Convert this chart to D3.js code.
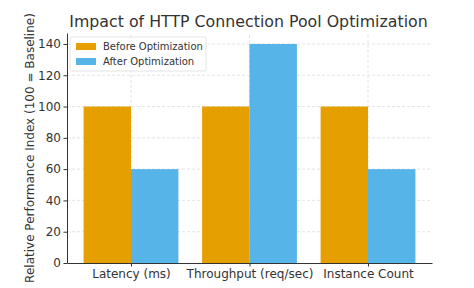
<!DOCTYPE html>
<html>
<head>
<meta charset="utf-8">
<script src="https://cdn.jsdelivr.net/npm/d3@7"></script>
<style>
  body { margin: 0; background: #fff; }
  svg text { font-family: "DejaVu Sans", sans-serif; fill: #333; }
</style>
</head>
<body>
<div id="chart"></div>
<script>
// chart data
var categories = ["Latency (ms)", "Throughput (req/sec)", "Instance Count"];
var seriesNames = ["Before Optimization", "After Optimization"];
var beforeValues = [100, 100, 100];
var afterValues = [60, 140, 60];
var yTicks = [0, 20, 40, 60, 80, 100, 120, 140];
var colors = ["#E69F00", "#56B4E9"];

var width = 474, height = 288;
var margin = {top: 33, right: 42, bottom: 25, left: 67};

var svg = d3.select("#chart").append("svg")
    .attr("width", width)
    .attr("height", height);

// x scale in category units, bars are 0.4 wide on each side of the tick
var barW = 0.4;
var x = d3.scaleLinear()
    .domain([-0.54, 2.54])
    .range([margin.left, width - margin.right]);
var y = d3.scaleLinear()
    .domain([0, 147])
    .range([height - margin.bottom, margin.top]);

// grid
var grid = svg.append("g").attr("class", "grid");
grid.selectAll("line.h").data(yTicks.slice(1)).enter().append("line")
    .attr("x1", x(-0.54)).attr("x2", x(2.54))
    .attr("y1", function(d) { return y(d); })
    .attr("y2", function(d) { return y(d); })
    .attr("stroke", "#ddd").attr("stroke-width", 0.8)
    .attr("stroke-dasharray", "3,2");
grid.selectAll("line.v").data(categories).enter().append("line")
    .attr("x1", function(d, i) { return x(i); })
    .attr("x2", function(d, i) { return x(i); })
    .attr("y1", y(0)).attr("y2", y(147))
    .attr("stroke", "#ddd").attr("stroke-width", 0.8)
    .attr("stroke-dasharray", "3,2");

// bars
var series = [beforeValues, afterValues];
series.forEach(function(vals, s) {
  svg.append("g").selectAll("rect").data(vals).enter().append("rect")
      .attr("x", function(d, i) { return x(i - barW + s * barW); })
      .attr("width", x(barW) - x(0))
      .attr("y", function(d) { return y(d); })
      .attr("height", function(d) { return y(0) - y(d); })
      .attr("fill", colors[s]);
});

// axes
var xAxis = svg.append("g")
    .attr("transform", "translate(0," + y(0) + ")")
    .call(d3.axisBottom(x).tickValues([0, 1, 2])
      .tickFormat(function(d) { return categories[d]; })
      .tickSize(3.5).tickPadding(2.5).tickSizeOuter(0));
var yAxis = svg.append("g")
    .attr("transform", "translate(" + x(-0.54) + ",0)")
    .call(d3.axisLeft(y).tickValues(yTicks).tickSize(3.5).tickPadding(2.5).tickSizeOuter(0));

[xAxis, yAxis].forEach(function(a) {
  a.select(".domain").attr("stroke", "#333").attr("stroke-width", 1);
  a.selectAll(".tick line").attr("stroke", "#333");
  a.selectAll(".tick text").style("font-size", "12px").attr("fill", "#333");
});

// title
svg.append("text")
    .attr("x", 248.5)
    .attr("y", 27)
    .attr("text-anchor", "middle")
    .style("font-size", "15.8px")
    .text("Impact of HTTP Connection Pool Optimization");

// y label
svg.append("text")
    .attr("transform", "translate(34," + (y(0) + y(147)) / 2 + ") rotate(-90)")
    .attr("text-anchor", "middle")
    .style("font-size", "12px")
    .text("Relative Performance Index (100 = Baseline)");

// legend
var legend = svg.append("g").attr("transform", "translate(70,37)");
legend.append("rect")
    .attr("width", 136).attr("height", 34).attr("rx", 2)
    .attr("fill", "#fff").attr("fill-opacity", 0.8)
    .attr("stroke", "#ddd").attr("stroke-width", 0.8);
seriesNames.forEach(function(name, i) {
  legend.append("rect")
      .attr("x", 6).attr("y", 6 + i * 15)
      .attr("width", 20).attr("height", 7)
      .attr("fill", colors[i]);
  legend.append("text")
      .attr("x", 33).attr("y", 13 + i * 15)
      .style("font-size", "10px")
      .text(name);
});
</script>
</body>
</html>
